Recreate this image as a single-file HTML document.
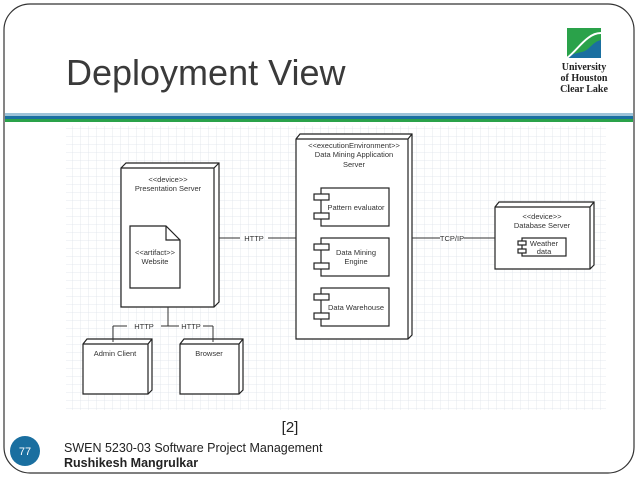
<!DOCTYPE html>
<html><head><meta charset="utf-8"><style>
body{margin:0;background:#fff;}
svg text{font-family:"Liberation Sans",sans-serif;}
</style></head><body>
<svg width="638" height="479" viewBox="0 0 638 479" xmlns="http://www.w3.org/2000/svg">
<defs>
<pattern id="g" width="8" height="8" patternUnits="userSpaceOnUse">
<path d="M8 0H0V8" fill="none" stroke="#dde2ea" stroke-width="0.8"/>
</pattern>
</defs>
<rect x="4" y="4" width="630" height="469" rx="26" fill="#fff" stroke="#333" stroke-width="1.2"/>
<rect x="66" y="126" width="540" height="284" fill="url(#g)"/>
<!-- title -->
<text x="66" y="85" font-size="36" fill="#3a3a3a">Deployment View</text>
<!-- logo -->
<rect x="567" y="28" width="34" height="30" fill="#1a6fa0"/>
<path d="M567 28H601V40C592 42 590 50 582 52C576 53 570 55 567 58Z" fill="#2aa24a"/>
<path d="M567 58C575 52 580 44 588 38C593 34 597 33 601 33" fill="none" stroke="#fff" stroke-width="2"/>
<text x="584" y="70" font-size="10" text-anchor="middle" fill="#222" style="font-family:'Liberation Serif',serif;font-weight:bold">University</text>
<text x="584" y="81" font-size="10" text-anchor="middle" fill="#222" style="font-family:'Liberation Serif',serif;font-weight:bold">of Houston</text>
<text x="584" y="92" font-size="10" text-anchor="middle" fill="#222" style="font-family:'Liberation Serif',serif;font-weight:bold">Clear Lake</text>
<!-- stripes -->
<rect x="5" y="113" width="628" height="3" fill="#9cc3d8"/>
<rect x="5" y="116" width="628" height="3" fill="#1a6fa0"/>
<rect x="5" y="119" width="628" height="3" fill="#2aa24a"/>
<g fill="#fff" stroke="#222" stroke-width="1.2">
<path d="M121 168L126 163H219V302L214 307H121Z"/>
<path d="M214 168L219 163M214 168V307M121 168H214" fill="none"/>
<path d="M130 226H166L180 240V288H130Z"/>
<path d="M166 226V240H180" fill="none"/>
<path d="M296 139L300 134H412V335L408 339H296Z"/>
<path d="M408 139L412 134M408 139V339M296 139H408" fill="none"/>
<rect x="321" y="188" width="68" height="38"/>
<rect x="321" y="238" width="68" height="38"/>
<rect x="321" y="288" width="68" height="38"/>
<rect x="314" y="194" width="15" height="6"/><rect x="314" y="213" width="15" height="6"/>
<rect x="314" y="244" width="15" height="6"/><rect x="314" y="263" width="15" height="6"/>
<rect x="314" y="294" width="15" height="6"/><rect x="314" y="313" width="15" height="6"/>
<path d="M495 207L499 202H594V265L590 269H495Z"/>
<path d="M590 207L594 202M590 207V269M495 207H590" fill="none"/>
<rect x="522" y="238" width="44" height="18"/>
<rect x="518" y="241" width="8" height="4"/><rect x="518" y="249" width="8" height="4"/>
<path d="M83 344L87 339H152V390L148 394H83Z"/>
<path d="M148 344L152 339M148 344V394M83 344H148" fill="none"/>
<path d="M180 344L184 339H243V390L239 394H180Z"/>
<path d="M239 344L243 339M239 344V394M180 344H239" fill="none"/>
</g>
<g stroke="#333" stroke-width="1" fill="none">
<path d="M219 238H240M268 238H296"/>
<path d="M412 238H440M464 238H495"/>
<path d="M168 307V326M113 326H127M161 326H179M203 326H213M113 326V342M213 326V342"/>
</g>
<g font-size="7.5" fill="#333" text-anchor="middle">
<text x="168" y="182">&lt;&lt;device&gt;&gt;</text>
<text x="168" y="191">Presentation Server</text>
<text x="155" y="255">&lt;&lt;artifact&gt;&gt;</text>
<text x="155" y="264">Website</text>
<text x="254" y="241">HTTP</text>
<text x="354" y="148">&lt;&lt;executionEnvironment&gt;&gt;</text>
<text x="354" y="157">Data Mining Application</text>
<text x="354" y="167">Server</text>
<text x="356" y="210">Pattern evaluator</text>
<text x="356" y="255">Data Mining</text>
<text x="356" y="264">Engine</text>
<text x="356" y="310">Data Warehouse</text>
<text x="452" y="241">TCP/IP</text>
<text x="542" y="219">&lt;&lt;device&gt;&gt;</text>
<text x="542" y="228">Database Server</text>
<text x="544" y="246">Weather</text>
<text x="544" y="254">data</text>
<text x="144" y="329">HTTP</text>
<text x="191" y="329">HTTP</text>
<text x="115" y="356">Admin Client</text>
<text x="209" y="356">Browser</text>
</g>
<text x="290" y="432" font-size="15" fill="#222" text-anchor="middle">[2]</text>
<circle cx="25" cy="451" r="15" fill="#1a6fa0"/>
<text x="25" y="455" font-size="11" fill="#fff" text-anchor="middle">77</text>
<text x="64" y="452" font-size="12.5" fill="#222">SWEN 5230-03 Software Project Management</text>
<text x="64" y="467" font-size="12.5" font-weight="bold" fill="#222">Rushikesh Mangrulkar</text>
</svg>
</body></html>
